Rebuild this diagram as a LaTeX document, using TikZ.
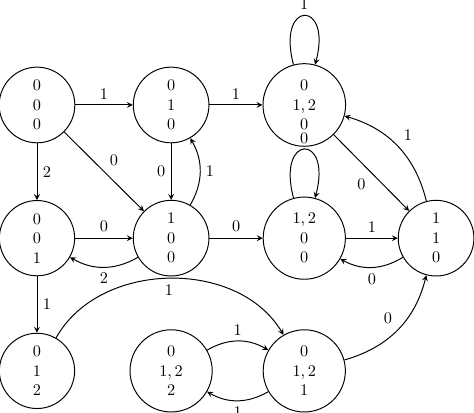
\documentclass[tikz,border=0pt]{standalone}
\usetikzlibrary{arrows}

\tikzstyle{cell} = [draw, circle, align=center, inner sep=6.2pt]

\begin{document}
\begin{tikzpicture}[>=stealth, semithick]

\useasboundingbox (0,0) rectangle (10.25,8.91);

% top row
\node[cell] (n000) at (0.80,6.64) {0\\0\\0};
\node[cell] (n010) at (3.70,6.64) {0\\1\\0};
\node[cell] (n0120) at (6.58,6.64) {0\\$1,2$\\0};

% middle row
\node[cell] (n001) at (0.80,3.76) {0\\0\\1};
\node[cell] (n100) at (3.70,3.76) {1\\0\\0};
\node[cell] (n1200) at (6.58,3.76) {$1,2$\\0\\0};
\node[cell] (n110) at (9.43,3.76) {1\\1\\0};

% bottom row
\node[cell] (n012) at (0.80,0.89) {0\\1\\2};
\node[cell] (n0122) at (3.70,0.89) {0\\$1,2$\\2};
\node[cell] (n0121) at (6.58,0.89) {0\\$1,2$\\1};

% transitions
\draw[->] (n000) -- node[above] {1} (n010);
\draw[->] (n010) -- node[above] {1} (n0120);
\draw[->] (n000) -- node[right] {2} (n001);
\draw[->] (n000) -- node[above right] {0} (n100);
\draw[->] (n010) -- node[left] {0} (n100);
\draw[->] (n100) to[bend right=30] node[right] {1} (n010);

\draw[->] (n001) -- node[above] {0} (n100);
\draw[->] (n100) to[bend left=30] node[below] {2} (n001);
\draw[->] (n100) -- node[above] {0} (n1200);
\draw[->] (n1200) -- node[above] {1} (n110);
\draw[->] (n110) to[bend left=30] node[below] {0} (n1200);

\draw[->] (n0120) -- node[below left] {0} (n110);
\draw[->] (n110) to[bend right=30] node[above right] {1} (n0120);
\draw[->] (n0120) to[loop above] node[above] {1} (n0120);
\draw[->] (n1200) to[loop above] node[above] {0} (n1200);

\draw[->] (n001) -- node[right] {1} (n012);
\draw[->] (n012) to[bend left=60] node[below] {1} (n0121);
\draw[->] (n0122) to[bend left=30] node[above] {1} (n0121);
\draw[->] (n0121) to[bend left=30] node[below] {1} (n0122);
\draw[->] (n0121) to[bend right=30] node[above left] {0} (n110);

\end{tikzpicture}
\end{document}
